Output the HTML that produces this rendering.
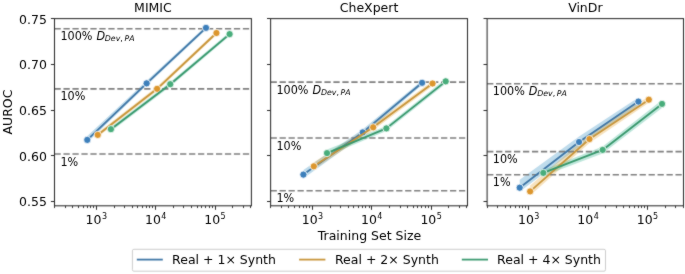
<!DOCTYPE html><html><head><meta charset="utf-8"><style>html,body{margin:0;padding:0;background:#fff;width:685px;height:274px;overflow:hidden}svg{display:block}text{font-family:'DejaVu Sans', 'Liberation Sans', sans-serif;fill:#000}</style></head><body>
<svg width="685" height="274" viewBox="0 0 685 274">
<defs><filter id="soft" x="0" y="0" width="685" height="274" filterUnits="userSpaceOnUse" color-interpolation-filters="sRGB"><feConvolveMatrix order="3" kernelMatrix="1 2 1 2 20 2 1 2 1" divisor="32" edgeMode="duplicate"/></filter><filter id="softT" x="0" y="0" width="685" height="274" filterUnits="userSpaceOnUse" color-interpolation-filters="sRGB"><feConvolveMatrix order="3" kernelMatrix="1 2 1 2 40 2 1 2 1" divisor="52" edgeMode="none" preserveAlpha="false"/></filter></defs>
<g filter="url(#soft)">
<rect width="685" height="274" fill="#fff"/>
<clipPath id="c0"><rect x="54.5" y="18.7" width="196.9" height="187.10000000000002"/></clipPath>
<g clip-path="url(#c0)">
<polygon points="87.29,135.90 146.64,80.85 205.99,26.05 205.99,29.65 146.64,85.55 87.29,142.40" fill="#0173b2" fill-opacity="0.25"/>
<polygon points="97.74,132.70 157.09,86.60 216.44,31.00 216.44,35.00 157.09,91.00 97.74,137.10" fill="#de8f05" fill-opacity="0.25"/>
<polygon points="110.91,127.00 170.26,82.00 229.61,32.10 229.61,36.10 170.26,86.40 110.91,131.40" fill="#029e73" fill-opacity="0.25"/>
<line x1="54.5" y1="28.75" x2="251.4" y2="28.75" stroke="#7f7f7f" stroke-width="1.6" stroke-dasharray="6.27 2.7"/>
<line x1="54.5" y1="88.9" x2="251.4" y2="88.9" stroke="#7f7f7f" stroke-width="1.6" stroke-dasharray="6.27 2.7"/>
<line x1="54.5" y1="154.0" x2="251.4" y2="154.0" stroke="#7f7f7f" stroke-width="1.6" stroke-dasharray="6.27 2.7"/>
<polyline points="87.29,139.90 146.64,83.35 205.99,27.85" fill="none" stroke="#3f76a6" stroke-width="1.85" stroke-linejoin="round" stroke-linecap="round"/>
<circle cx="87.29" cy="139.90" r="3.6" fill="#3c7fbb" stroke="#fff" stroke-width="0.8"/>
<circle cx="146.64" cy="83.35" r="3.6" fill="#3c7fbb" stroke="#fff" stroke-width="0.8"/>
<circle cx="205.99" cy="27.85" r="3.6" fill="#3c7fbb" stroke="#fff" stroke-width="0.8"/>
<polyline points="97.74,134.90 157.09,88.80 216.44,33.00" fill="none" stroke="#c8953a" stroke-width="1.85" stroke-linejoin="round" stroke-linecap="round"/>
<circle cx="97.74" cy="134.90" r="3.6" fill="#dc962d" stroke="#fff" stroke-width="0.8"/>
<circle cx="157.09" cy="88.80" r="3.6" fill="#dc962d" stroke="#fff" stroke-width="0.8"/>
<circle cx="216.44" cy="33.00" r="3.6" fill="#dc962d" stroke="#fff" stroke-width="0.8"/>
<polyline points="110.91,129.20 170.26,84.20 229.61,34.10" fill="none" stroke="#38986c" stroke-width="1.85" stroke-linejoin="round" stroke-linecap="round"/>
<circle cx="110.91" cy="129.20" r="3.6" fill="#48ad7b" stroke="#fff" stroke-width="0.8"/>
<circle cx="170.26" cy="84.20" r="3.6" fill="#48ad7b" stroke="#fff" stroke-width="0.8"/>
<circle cx="229.61" cy="34.10" r="3.6" fill="#48ad7b" stroke="#fff" stroke-width="0.8"/>
</g>
<rect x="54.5" y="18.6" width="196.90" height="187.20" fill="none" stroke="#2a2a2a" stroke-width="1.05"/>
<line x1="50.90" y1="201.50" x2="54.5" y2="201.50" stroke="#2a2a2a" stroke-width="1.05"/>
<line x1="50.90" y1="155.50" x2="54.5" y2="155.50" stroke="#2a2a2a" stroke-width="1.05"/>
<line x1="50.90" y1="110.50" x2="54.5" y2="110.50" stroke="#2a2a2a" stroke-width="1.05"/>
<line x1="50.90" y1="64.50" x2="54.5" y2="64.50" stroke="#2a2a2a" stroke-width="1.05"/>
<line x1="50.90" y1="18.50" x2="54.5" y2="18.50" stroke="#2a2a2a" stroke-width="1.05"/>
<line x1="54.50" y1="205.8" x2="54.50" y2="208.10" stroke="#2a2a2a" stroke-width="0.9"/>
<line x1="65.50" y1="205.8" x2="65.50" y2="208.10" stroke="#2a2a2a" stroke-width="0.9"/>
<line x1="72.50" y1="205.8" x2="72.50" y2="208.10" stroke="#2a2a2a" stroke-width="0.9"/>
<line x1="78.50" y1="205.8" x2="78.50" y2="208.10" stroke="#2a2a2a" stroke-width="0.9"/>
<line x1="83.50" y1="205.8" x2="83.50" y2="208.10" stroke="#2a2a2a" stroke-width="0.9"/>
<line x1="87.50" y1="205.8" x2="87.50" y2="208.10" stroke="#2a2a2a" stroke-width="0.9"/>
<line x1="90.50" y1="205.8" x2="90.50" y2="208.10" stroke="#2a2a2a" stroke-width="0.9"/>
<line x1="93.50" y1="205.8" x2="93.50" y2="208.10" stroke="#2a2a2a" stroke-width="0.9"/>
<line x1="96.50" y1="205.8" x2="96.50" y2="209.80" stroke="#2a2a2a" stroke-width="1.05"/>
<line x1="114.50" y1="205.8" x2="114.50" y2="208.10" stroke="#2a2a2a" stroke-width="0.9"/>
<line x1="124.50" y1="205.8" x2="124.50" y2="208.10" stroke="#2a2a2a" stroke-width="0.9"/>
<line x1="132.50" y1="205.8" x2="132.50" y2="208.10" stroke="#2a2a2a" stroke-width="0.9"/>
<line x1="137.50" y1="205.8" x2="137.50" y2="208.10" stroke="#2a2a2a" stroke-width="0.9"/>
<line x1="142.50" y1="205.8" x2="142.50" y2="208.10" stroke="#2a2a2a" stroke-width="0.9"/>
<line x1="146.50" y1="205.8" x2="146.50" y2="208.10" stroke="#2a2a2a" stroke-width="0.9"/>
<line x1="149.50" y1="205.8" x2="149.50" y2="208.10" stroke="#2a2a2a" stroke-width="0.9"/>
<line x1="152.50" y1="205.8" x2="152.50" y2="208.10" stroke="#2a2a2a" stroke-width="0.9"/>
<line x1="155.50" y1="205.8" x2="155.50" y2="209.80" stroke="#2a2a2a" stroke-width="1.05"/>
<line x1="173.50" y1="205.8" x2="173.50" y2="208.10" stroke="#2a2a2a" stroke-width="0.9"/>
<line x1="183.50" y1="205.8" x2="183.50" y2="208.10" stroke="#2a2a2a" stroke-width="0.9"/>
<line x1="191.50" y1="205.8" x2="191.50" y2="208.10" stroke="#2a2a2a" stroke-width="0.9"/>
<line x1="197.50" y1="205.8" x2="197.50" y2="208.10" stroke="#2a2a2a" stroke-width="0.9"/>
<line x1="201.50" y1="205.8" x2="201.50" y2="208.10" stroke="#2a2a2a" stroke-width="0.9"/>
<line x1="205.50" y1="205.8" x2="205.50" y2="208.10" stroke="#2a2a2a" stroke-width="0.9"/>
<line x1="209.50" y1="205.8" x2="209.50" y2="208.10" stroke="#2a2a2a" stroke-width="0.9"/>
<line x1="212.50" y1="205.8" x2="212.50" y2="208.10" stroke="#2a2a2a" stroke-width="0.9"/>
<line x1="215.50" y1="205.8" x2="215.50" y2="209.80" stroke="#2a2a2a" stroke-width="1.05"/>
<line x1="232.50" y1="205.8" x2="232.50" y2="208.10" stroke="#2a2a2a" stroke-width="0.9"/>
<line x1="243.50" y1="205.8" x2="243.50" y2="208.10" stroke="#2a2a2a" stroke-width="0.9"/>
<line x1="250.50" y1="205.8" x2="250.50" y2="208.10" stroke="#2a2a2a" stroke-width="0.9"/>
<clipPath id="c1"><rect x="270.6" y="18.7" width="196.9" height="187.10000000000002"/></clipPath>
<g clip-path="url(#c1)">
<polygon points="303.39,170.10 362.74,129.20 422.09,80.60 422.09,85.00 362.74,135.40 303.39,178.60" fill="#0173b2" fill-opacity="0.25"/>
<polygon points="313.84,162.30 373.19,124.30 432.54,81.00 432.54,86.00 373.19,130.30 313.84,169.30" fill="#de8f05" fill-opacity="0.25"/>
<polygon points="327.01,149.60 386.36,125.90 445.71,78.85 445.71,83.85 386.36,130.90 327.01,156.10" fill="#029e73" fill-opacity="0.25"/>
<line x1="270.6" y1="82.1" x2="467.5" y2="82.1" stroke="#7f7f7f" stroke-width="1.6" stroke-dasharray="6.27 2.7"/>
<line x1="270.6" y1="138.0" x2="467.5" y2="138.0" stroke="#7f7f7f" stroke-width="1.6" stroke-dasharray="6.27 2.7"/>
<line x1="270.6" y1="190.7" x2="467.5" y2="190.7" stroke="#7f7f7f" stroke-width="1.6" stroke-dasharray="6.27 2.7"/>
<polyline points="303.39,174.60 362.74,132.40 422.09,82.80" fill="none" stroke="#3f76a6" stroke-width="1.85" stroke-linejoin="round" stroke-linecap="round"/>
<circle cx="303.39" cy="174.60" r="3.6" fill="#3c7fbb" stroke="#fff" stroke-width="0.8"/>
<circle cx="362.74" cy="132.40" r="3.6" fill="#3c7fbb" stroke="#fff" stroke-width="0.8"/>
<circle cx="422.09" cy="82.80" r="3.6" fill="#3c7fbb" stroke="#fff" stroke-width="0.8"/>
<polyline points="313.84,166.30 373.19,127.30 432.54,83.50" fill="none" stroke="#c8953a" stroke-width="1.85" stroke-linejoin="round" stroke-linecap="round"/>
<circle cx="313.84" cy="166.30" r="3.6" fill="#dc962d" stroke="#fff" stroke-width="0.8"/>
<circle cx="373.19" cy="127.30" r="3.6" fill="#dc962d" stroke="#fff" stroke-width="0.8"/>
<circle cx="432.54" cy="83.50" r="3.6" fill="#dc962d" stroke="#fff" stroke-width="0.8"/>
<polyline points="327.01,153.10 386.36,128.40 445.71,81.35" fill="none" stroke="#38986c" stroke-width="1.85" stroke-linejoin="round" stroke-linecap="round"/>
<circle cx="327.01" cy="153.10" r="3.6" fill="#48ad7b" stroke="#fff" stroke-width="0.8"/>
<circle cx="386.36" cy="128.40" r="3.6" fill="#48ad7b" stroke="#fff" stroke-width="0.8"/>
<circle cx="445.71" cy="81.35" r="3.6" fill="#48ad7b" stroke="#fff" stroke-width="0.8"/>
</g>
<rect x="270.6" y="18.6" width="196.90" height="187.20" fill="none" stroke="#2a2a2a" stroke-width="1.05"/>
<line x1="267.00" y1="201.50" x2="270.6" y2="201.50" stroke="#2a2a2a" stroke-width="1.05"/>
<line x1="267.00" y1="155.50" x2="270.6" y2="155.50" stroke="#2a2a2a" stroke-width="1.05"/>
<line x1="267.00" y1="110.50" x2="270.6" y2="110.50" stroke="#2a2a2a" stroke-width="1.05"/>
<line x1="267.00" y1="64.50" x2="270.6" y2="64.50" stroke="#2a2a2a" stroke-width="1.05"/>
<line x1="267.00" y1="18.50" x2="270.6" y2="18.50" stroke="#2a2a2a" stroke-width="1.05"/>
<line x1="270.50" y1="205.8" x2="270.50" y2="208.10" stroke="#2a2a2a" stroke-width="0.9"/>
<line x1="281.50" y1="205.8" x2="281.50" y2="208.10" stroke="#2a2a2a" stroke-width="0.9"/>
<line x1="288.50" y1="205.8" x2="288.50" y2="208.10" stroke="#2a2a2a" stroke-width="0.9"/>
<line x1="294.50" y1="205.8" x2="294.50" y2="208.10" stroke="#2a2a2a" stroke-width="0.9"/>
<line x1="299.50" y1="205.8" x2="299.50" y2="208.10" stroke="#2a2a2a" stroke-width="0.9"/>
<line x1="303.50" y1="205.8" x2="303.50" y2="208.10" stroke="#2a2a2a" stroke-width="0.9"/>
<line x1="306.50" y1="205.8" x2="306.50" y2="208.10" stroke="#2a2a2a" stroke-width="0.9"/>
<line x1="309.50" y1="205.8" x2="309.50" y2="208.10" stroke="#2a2a2a" stroke-width="0.9"/>
<line x1="312.50" y1="205.8" x2="312.50" y2="209.80" stroke="#2a2a2a" stroke-width="1.05"/>
<line x1="330.50" y1="205.8" x2="330.50" y2="208.10" stroke="#2a2a2a" stroke-width="0.9"/>
<line x1="340.50" y1="205.8" x2="340.50" y2="208.10" stroke="#2a2a2a" stroke-width="0.9"/>
<line x1="348.50" y1="205.8" x2="348.50" y2="208.10" stroke="#2a2a2a" stroke-width="0.9"/>
<line x1="353.50" y1="205.8" x2="353.50" y2="208.10" stroke="#2a2a2a" stroke-width="0.9"/>
<line x1="358.50" y1="205.8" x2="358.50" y2="208.10" stroke="#2a2a2a" stroke-width="0.9"/>
<line x1="362.50" y1="205.8" x2="362.50" y2="208.10" stroke="#2a2a2a" stroke-width="0.9"/>
<line x1="365.50" y1="205.8" x2="365.50" y2="208.10" stroke="#2a2a2a" stroke-width="0.9"/>
<line x1="369.50" y1="205.8" x2="369.50" y2="208.10" stroke="#2a2a2a" stroke-width="0.9"/>
<line x1="371.50" y1="205.8" x2="371.50" y2="209.80" stroke="#2a2a2a" stroke-width="1.05"/>
<line x1="389.50" y1="205.8" x2="389.50" y2="208.10" stroke="#2a2a2a" stroke-width="0.9"/>
<line x1="400.50" y1="205.8" x2="400.50" y2="208.10" stroke="#2a2a2a" stroke-width="0.9"/>
<line x1="407.50" y1="205.8" x2="407.50" y2="208.10" stroke="#2a2a2a" stroke-width="0.9"/>
<line x1="413.50" y1="205.8" x2="413.50" y2="208.10" stroke="#2a2a2a" stroke-width="0.9"/>
<line x1="417.50" y1="205.8" x2="417.50" y2="208.10" stroke="#2a2a2a" stroke-width="0.9"/>
<line x1="421.50" y1="205.8" x2="421.50" y2="208.10" stroke="#2a2a2a" stroke-width="0.9"/>
<line x1="425.50" y1="205.8" x2="425.50" y2="208.10" stroke="#2a2a2a" stroke-width="0.9"/>
<line x1="428.50" y1="205.8" x2="428.50" y2="208.10" stroke="#2a2a2a" stroke-width="0.9"/>
<line x1="431.50" y1="205.8" x2="431.50" y2="209.80" stroke="#2a2a2a" stroke-width="1.05"/>
<line x1="448.50" y1="205.8" x2="448.50" y2="208.10" stroke="#2a2a2a" stroke-width="0.9"/>
<line x1="459.50" y1="205.8" x2="459.50" y2="208.10" stroke="#2a2a2a" stroke-width="0.9"/>
<line x1="466.50" y1="205.8" x2="466.50" y2="208.10" stroke="#2a2a2a" stroke-width="0.9"/>
<clipPath id="c2"><rect x="486.9" y="18.7" width="196.9" height="187.10000000000002"/></clipPath>
<g clip-path="url(#c2)">
<polygon points="519.69,179.70 579.04,136.50 638.39,97.60 638.39,105.60 579.04,147.00 519.69,191.70" fill="#0173b2" fill-opacity="0.25"/>
<polygon points="530.14,185.40 589.49,134.55 648.84,96.20 648.84,102.70 589.49,143.05 530.14,195.40" fill="#de8f05" fill-opacity="0.25"/>
<polygon points="543.31,169.90 602.66,146.40 662.01,99.90 662.01,107.90 602.66,153.40 543.31,175.90" fill="#029e73" fill-opacity="0.25"/>
<line x1="487.1" y1="83.8" x2="683.5" y2="83.8" stroke="#7f7f7f" stroke-width="1.6" stroke-dasharray="6.27 2.7"/>
<line x1="487.1" y1="151.6" x2="683.5" y2="151.6" stroke="#7f7f7f" stroke-width="1.6" stroke-dasharray="6.27 2.7"/>
<line x1="487.1" y1="174.7" x2="683.5" y2="174.7" stroke="#7f7f7f" stroke-width="1.6" stroke-dasharray="6.27 2.7"/>
<polyline points="519.69,187.70 579.04,142.00 638.39,101.60" fill="none" stroke="#3f76a6" stroke-width="1.85" stroke-linejoin="round" stroke-linecap="round"/>
<circle cx="519.69" cy="187.70" r="3.6" fill="#3c7fbb" stroke="#fff" stroke-width="0.8"/>
<circle cx="579.04" cy="142.00" r="3.6" fill="#3c7fbb" stroke="#fff" stroke-width="0.8"/>
<circle cx="638.39" cy="101.60" r="3.6" fill="#3c7fbb" stroke="#fff" stroke-width="0.8"/>
<polyline points="530.14,191.40 589.49,139.05 648.84,99.70" fill="none" stroke="#c8953a" stroke-width="1.85" stroke-linejoin="round" stroke-linecap="round"/>
<circle cx="530.14" cy="191.40" r="3.6" fill="#dc962d" stroke="#fff" stroke-width="0.8"/>
<circle cx="589.49" cy="139.05" r="3.6" fill="#dc962d" stroke="#fff" stroke-width="0.8"/>
<circle cx="648.84" cy="99.70" r="3.6" fill="#dc962d" stroke="#fff" stroke-width="0.8"/>
<polyline points="543.31,172.90 602.66,149.90 662.01,103.90" fill="none" stroke="#38986c" stroke-width="1.85" stroke-linejoin="round" stroke-linecap="round"/>
<circle cx="543.31" cy="172.90" r="3.6" fill="#48ad7b" stroke="#fff" stroke-width="0.8"/>
<circle cx="602.66" cy="149.90" r="3.6" fill="#48ad7b" stroke="#fff" stroke-width="0.8"/>
<circle cx="662.01" cy="103.90" r="3.6" fill="#48ad7b" stroke="#fff" stroke-width="0.8"/>
</g>
<rect x="487.1" y="18.6" width="196.40" height="187.20" fill="none" stroke="#2a2a2a" stroke-width="1.05"/>
<line x1="483.50" y1="201.50" x2="487.1" y2="201.50" stroke="#2a2a2a" stroke-width="1.05"/>
<line x1="483.50" y1="155.50" x2="487.1" y2="155.50" stroke="#2a2a2a" stroke-width="1.05"/>
<line x1="483.50" y1="110.50" x2="487.1" y2="110.50" stroke="#2a2a2a" stroke-width="1.05"/>
<line x1="483.50" y1="64.50" x2="487.1" y2="64.50" stroke="#2a2a2a" stroke-width="1.05"/>
<line x1="483.50" y1="18.50" x2="487.1" y2="18.50" stroke="#2a2a2a" stroke-width="1.05"/>
<line x1="487.50" y1="205.8" x2="487.50" y2="208.10" stroke="#2a2a2a" stroke-width="0.9"/>
<line x1="497.50" y1="205.8" x2="497.50" y2="208.10" stroke="#2a2a2a" stroke-width="0.9"/>
<line x1="505.50" y1="205.8" x2="505.50" y2="208.10" stroke="#2a2a2a" stroke-width="0.9"/>
<line x1="510.50" y1="205.8" x2="510.50" y2="208.10" stroke="#2a2a2a" stroke-width="0.9"/>
<line x1="515.50" y1="205.8" x2="515.50" y2="208.10" stroke="#2a2a2a" stroke-width="0.9"/>
<line x1="519.50" y1="205.8" x2="519.50" y2="208.10" stroke="#2a2a2a" stroke-width="0.9"/>
<line x1="522.50" y1="205.8" x2="522.50" y2="208.10" stroke="#2a2a2a" stroke-width="0.9"/>
<line x1="525.50" y1="205.8" x2="525.50" y2="208.10" stroke="#2a2a2a" stroke-width="0.9"/>
<line x1="528.50" y1="205.8" x2="528.50" y2="209.80" stroke="#2a2a2a" stroke-width="1.05"/>
<line x1="546.50" y1="205.8" x2="546.50" y2="208.10" stroke="#2a2a2a" stroke-width="0.9"/>
<line x1="557.50" y1="205.8" x2="557.50" y2="208.10" stroke="#2a2a2a" stroke-width="0.9"/>
<line x1="564.50" y1="205.8" x2="564.50" y2="208.10" stroke="#2a2a2a" stroke-width="0.9"/>
<line x1="570.50" y1="205.8" x2="570.50" y2="208.10" stroke="#2a2a2a" stroke-width="0.9"/>
<line x1="574.50" y1="205.8" x2="574.50" y2="208.10" stroke="#2a2a2a" stroke-width="0.9"/>
<line x1="578.50" y1="205.8" x2="578.50" y2="208.10" stroke="#2a2a2a" stroke-width="0.9"/>
<line x1="582.50" y1="205.8" x2="582.50" y2="208.10" stroke="#2a2a2a" stroke-width="0.9"/>
<line x1="585.50" y1="205.8" x2="585.50" y2="208.10" stroke="#2a2a2a" stroke-width="0.9"/>
<line x1="588.50" y1="205.8" x2="588.50" y2="209.80" stroke="#2a2a2a" stroke-width="1.05"/>
<line x1="605.50" y1="205.8" x2="605.50" y2="208.10" stroke="#2a2a2a" stroke-width="0.9"/>
<line x1="616.50" y1="205.8" x2="616.50" y2="208.10" stroke="#2a2a2a" stroke-width="0.9"/>
<line x1="623.50" y1="205.8" x2="623.50" y2="208.10" stroke="#2a2a2a" stroke-width="0.9"/>
<line x1="629.50" y1="205.8" x2="629.50" y2="208.10" stroke="#2a2a2a" stroke-width="0.9"/>
<line x1="634.50" y1="205.8" x2="634.50" y2="208.10" stroke="#2a2a2a" stroke-width="0.9"/>
<line x1="638.50" y1="205.8" x2="638.50" y2="208.10" stroke="#2a2a2a" stroke-width="0.9"/>
<line x1="641.50" y1="205.8" x2="641.50" y2="208.10" stroke="#2a2a2a" stroke-width="0.9"/>
<line x1="644.50" y1="205.8" x2="644.50" y2="208.10" stroke="#2a2a2a" stroke-width="0.9"/>
<line x1="647.50" y1="205.8" x2="647.50" y2="209.80" stroke="#2a2a2a" stroke-width="1.05"/>
<line x1="665.50" y1="205.8" x2="665.50" y2="208.10" stroke="#2a2a2a" stroke-width="0.9"/>
<line x1="675.50" y1="205.8" x2="675.50" y2="208.10" stroke="#2a2a2a" stroke-width="0.9"/>
<line x1="683.50" y1="205.8" x2="683.50" y2="208.10" stroke="#2a2a2a" stroke-width="0.9"/>
<rect x="132.4" y="249.3" width="473.1" height="21.9" rx="1.5" ry="1.5" fill="#fff" fill-opacity="0.8" stroke="#cccccc" stroke-width="1"/>
<line x1="136.8" y1="259.6" x2="162.8" y2="259.6" stroke="#3f76a6" stroke-width="1.8"/>
<line x1="299.1" y1="259.6" x2="325.4" y2="259.6" stroke="#c8953a" stroke-width="1.8"/>
<line x1="461.8" y1="259.6" x2="488.0" y2="259.6" stroke="#3c9a70" stroke-width="1.8"/>
</g>
<g filter="url(#softT)">
<text transform="translate(60.40 40.25) scale(1 1.04)" font-size="11.2">100%<tspan x="36.039" font-style="oblique">D</tspan></text>
<text x="104.80 110.87 115.71 120.37 124.41 129.16" y="41.25" font-size="7.84" style="font-kerning:none"><tspan font-style="oblique">Dev</tspan>,<tspan font-style="oblique">PA</tspan></text>
<text transform="translate(60.40 100.40) scale(1 1.04)" font-size="11.2">10%</text>
<text transform="translate(60.40 165.50) scale(1 1.04)" font-size="11.2">1%</text>
<text transform="translate(46.9 206.40) scale(1 1.05)" font-size="12.5" text-anchor="end">0.55</text>
<text transform="translate(46.9 160.75) scale(1 1.05)" font-size="12.5" text-anchor="end">0.60</text>
<text transform="translate(46.9 115.10) scale(1 1.05)" font-size="12.5" text-anchor="end">0.65</text>
<text transform="translate(46.9 69.45) scale(1 1.05)" font-size="12.5" text-anchor="end">0.70</text>
<text transform="translate(46.9 23.80) scale(1 1.05)" font-size="12.5" text-anchor="end">0.75</text>
<text transform="translate(85.60 224.0) scale(1 1.05)" font-size="12.5">10<tspan font-size="8.0" dy="-4.8" dx="0.4">3</tspan></text>
<text transform="translate(144.95 224.0) scale(1 1.05)" font-size="12.5">10<tspan font-size="8.0" dy="-4.8" dx="0.4">4</tspan></text>
<text transform="translate(204.30 224.0) scale(1 1.05)" font-size="12.5">10<tspan font-size="8.0" dy="-4.8" dx="0.4">5</tspan></text>
<text x="152.95" y="11.8" font-size="12.5" text-anchor="middle">MIMIC</text>
<text transform="translate(276.50 93.60) scale(1 1.04)" font-size="11.2">100%<tspan x="36.039" font-style="oblique">D</tspan></text>
<text x="320.90 326.97 331.81 336.47 340.51 345.26" y="94.60" font-size="7.84" style="font-kerning:none"><tspan font-style="oblique">Dev</tspan>,<tspan font-style="oblique">PA</tspan></text>
<text transform="translate(276.50 149.50) scale(1 1.04)" font-size="11.2">10%</text>
<text transform="translate(276.50 202.20) scale(1 1.04)" font-size="11.2">1%</text>
<text transform="translate(301.70 224.0) scale(1 1.05)" font-size="12.5">10<tspan font-size="8.0" dy="-4.8" dx="0.4">3</tspan></text>
<text transform="translate(361.05 224.0) scale(1 1.05)" font-size="12.5">10<tspan font-size="8.0" dy="-4.8" dx="0.4">4</tspan></text>
<text transform="translate(420.40 224.0) scale(1 1.05)" font-size="12.5">10<tspan font-size="8.0" dy="-4.8" dx="0.4">5</tspan></text>
<text x="369.05" y="11.8" font-size="12.5" text-anchor="middle">CheXpert</text>
<text transform="translate(492.80 95.30) scale(1 1.04)" font-size="11.2">100%<tspan x="36.039" font-style="oblique">D</tspan></text>
<text x="537.20 543.26 548.11 552.77 556.81 561.56" y="96.30" font-size="7.84" style="font-kerning:none"><tspan font-style="oblique">Dev</tspan>,<tspan font-style="oblique">PA</tspan></text>
<text transform="translate(492.80 163.10) scale(1 1.04)" font-size="11.2">10%</text>
<text transform="translate(492.80 186.20) scale(1 1.04)" font-size="11.2">1%</text>
<text transform="translate(518.00 224.0) scale(1 1.05)" font-size="12.5">10<tspan font-size="8.0" dy="-4.8" dx="0.4">3</tspan></text>
<text transform="translate(577.35 224.0) scale(1 1.05)" font-size="12.5">10<tspan font-size="8.0" dy="-4.8" dx="0.4">4</tspan></text>
<text transform="translate(636.70 224.0) scale(1 1.05)" font-size="12.5">10<tspan font-size="8.0" dy="-4.8" dx="0.4">5</tspan></text>
<text x="585.35" y="11.8" font-size="12.5" text-anchor="middle">VinDr</text>
<text x="369.5" y="240.0" font-size="12.5" text-anchor="middle">Training Set Size</text>
<text transform="translate(12.0 112.1) rotate(-90)" font-size="12.5" text-anchor="middle">AUROC</text>
<text x="172.1" y="263.9" font-size="12.5">Real + 1× Synth</text>
<text x="335.0" y="263.9" font-size="12.5">Real + 2× Synth</text>
<text x="497.1" y="263.9" font-size="12.5">Real + 4× Synth</text>
</g></svg></body></html>
